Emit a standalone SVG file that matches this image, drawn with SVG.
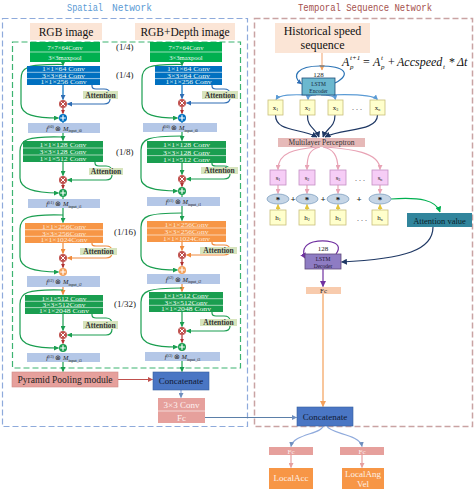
<svg xmlns="http://www.w3.org/2000/svg" xmlns:xlink="http://www.w3.org/1999/xlink" width="474" height="489" viewBox="0 0 474 489">
<style>
text{font-family:"Liberation Serif","Times New Roman",serif;}
.ttl{font-family:"Liberation Mono","DejaVu Sans Mono",monospace;font-size:10px;}
.cv{font-size:6.6px;fill:#eefaf0;text-anchor:middle;}
.cvo{font-size:6.6px;fill:#fde9d9;text-anchor:middle;}
.att{font-size:7.5px;fill:#333;text-anchor:middle;font-weight:bold;}
.fl{font-size:6.5px;fill:#222;text-anchor:middle;}
.sc{font-size:9px;fill:#222;}
.ln{fill:none;stroke-width:1.2;}
.dv{stroke:#fff;stroke-width:0.6;}
.fb{fill:#b4c7e7;}
.ab{fill:#d7e4bd;}
.yb{fill:#ffffcc;stroke:#c9bf7a;stroke-width:0.8;}
.sb{fill:#f6cdf6;stroke:#c48fc4;stroke-width:0.8;}
.el{fill:#c5d5e6;stroke:#7fa0c0;stroke-width:0.8;}
.st{font-size:7px;fill:#222;text-anchor:middle;}
.fx{font-family:"Liberation Serif",serif;font-style:italic;fill:#111;}
</style>
<defs>
<marker id="aG" viewBox="0 0 10 10" refX="9" refY="5" markerWidth="5" markerHeight="5" markerUnits="userSpaceOnUse" orient="auto"><path d="M0,0L10,5L0,10z" fill="#1a9e50"/></marker>
<marker id="aB" viewBox="0 0 10 10" refX="9" refY="5" markerWidth="5" markerHeight="5" markerUnits="userSpaceOnUse" orient="auto"><path d="M0,0L10,5L0,10z" fill="#2e6db4"/></marker>
<marker id="aO" viewBox="0 0 10 10" refX="9" refY="5" markerWidth="5" markerHeight="5" markerUnits="userSpaceOnUse" orient="auto"><path d="M0,0L10,5L0,10z" fill="#f08a3c"/></marker>
<marker id="aR" viewBox="0 0 10 10" refX="9" refY="5" markerWidth="4" markerHeight="4" markerUnits="userSpaceOnUse" orient="auto"><path d="M0,0L10,5L0,10z" fill="#b03030"/></marker>
<marker id="aN" viewBox="0 0 10 10" refX="9" refY="5" markerWidth="6" markerHeight="6" markerUnits="userSpaceOnUse" orient="auto"><path d="M0,0L10,5L0,10z" fill="#1f3864"/></marker>
<marker id="aP" viewBox="0 0 10 10" refX="9" refY="5" markerWidth="5" markerHeight="5" markerUnits="userSpaceOnUse" orient="auto"><path d="M0,0L10,5L0,10z" fill="#e8a3b5"/></marker>
<marker id="aY" viewBox="0 0 10 10" refX="9" refY="5" markerWidth="5" markerHeight="5" markerUnits="userSpaceOnUse" orient="auto"><path d="M0,0L10,5L0,10z" fill="#e3c53c"/></marker>
<marker id="aV" viewBox="0 0 10 10" refX="9" refY="5" markerWidth="6" markerHeight="6" markerUnits="userSpaceOnUse" orient="auto"><path d="M0,0L10,5L0,10z" fill="#7030a0"/></marker>
<marker id="aT" viewBox="0 0 10 10" refX="9" refY="5" markerWidth="5" markerHeight="5" markerUnits="userSpaceOnUse" orient="auto"><path d="M0,0L10,5L0,10z" fill="#5b9bd5"/></marker>
<marker id="aS" viewBox="0 0 10 10" refX="9" refY="5" markerWidth="5" markerHeight="5" markerUnits="userSpaceOnUse" orient="auto"><path d="M0,0L10,5L0,10z" fill="#6f8fbf"/></marker>
<marker id="aGr" viewBox="0 0 10 10" refX="9" refY="5" markerWidth="6" markerHeight="6" markerUnits="userSpaceOnUse" orient="auto"><path d="M0,0L10,5L0,10z" fill="#00b050"/></marker>
<marker id="aK" viewBox="0 0 10 10" refX="9" refY="5" markerWidth="5" markerHeight="5" markerUnits="userSpaceOnUse" orient="auto"><path d="M0,0L10,5L0,10z" fill="#c0504d"/></marker>
<marker id="aPk" viewBox="0 0 10 10" refX="9" refY="5" markerWidth="5" markerHeight="5" markerUnits="userSpaceOnUse" orient="auto"><path d="M0,0L10,5L0,10z" fill="#e6a0a0"/></marker>
<marker id="aOr" viewBox="0 0 10 10" refX="9" refY="5" markerWidth="6" markerHeight="6" markerUnits="userSpaceOnUse" orient="auto"><path d="M0,0L10,5L0,10z" fill="#f4a05a"/></marker>
<g id="mul"><circle r="4" fill="#c0504d"/><path d="M-2.3,-2.3L2.3,2.3M2.3,-2.3L-2.3,2.3" stroke="#fff" stroke-width="1"/></g>
<g id="addB"><circle r="4" fill="#0070c0"/><path d="M-2.8,0H2.8M0,-2.8V2.8" stroke="#fff" stroke-width="1.2"/></g>
<g id="addG"><circle r="4" fill="#1a9e50"/><path d="M-2.8,0H2.8M0,-2.8V2.8" stroke="#fff" stroke-width="1.2"/></g>
<g id="addO"><circle r="4" fill="#f4a05a"/><path d="M-2.8,0H2.8M0,-2.8V2.8" stroke="#fff" stroke-width="1.2"/></g>
</defs>
<rect width="474" height="489" fill="#fff"/>

<!-- frames -->
<g id="frames">
<text class="ttl" x="67" y="11" fill="#5b9bd5" textLength="36" lengthAdjust="spacingAndGlyphs">Spatial</text>
<text class="ttl" x="112" y="11" fill="#5b9bd5" textLength="40" lengthAdjust="spacingAndGlyphs">Network</text>
<text class="ttl" x="298" y="11" fill="#a5504d" textLength="134" lengthAdjust="spacingAndGlyphs">Temporal Sequence Network</text>
<rect x="2.5" y="18.5" width="245" height="408" fill="none" stroke="#8eaadb" stroke-width="1.2" stroke-dasharray="6 3"/>
<rect x="254.5" y="18.5" width="218" height="408" fill="none" stroke="#c9a3a3" stroke-width="1.5" stroke-dasharray="6 3"/>
<rect x="12.5" y="42" width="228" height="326" fill="none" stroke="#3cb371" stroke-width="1.2" stroke-dasharray="6 3"/>
</g>

<!-- connectors -->
<g id="connectors">
<!-- column 1 -->
<path class="ln" stroke="#1a9e50" d="M63,62V65.5" marker-end="url(#aG)"/>
<path class="ln" stroke="#1a9e50" d="M63,64.5C26,64 21,67 21,80V104C21,115 35,118 58.5,118" marker-end="url(#aG)"/>
<path class="ln" stroke="#0070c0" d="M63,85V99.5" marker-end="url(#aB)"/>
<path class="ln" stroke="#2e6db4" d="M92,85V86Q92,89 96,89H104Q110,89 110,94V99Q110,104 104,104H67.5" marker-end="url(#aB)"/>
<path class="ln" stroke="#b03030" d="M63,108V113.5" marker-end="url(#aR)"/>
<path class="ln" stroke="#0070c0" d="M63,122V123"/>
<path class="ln" stroke="#1a9e50" d="M63,133V140.5" marker-end="url(#aG)"/>
<path class="ln" stroke="#1a9e50" d="M63,137C26,136 20,140 20,151V178C20,189 35,193 58.5,193" marker-end="url(#aG)"/>
<path class="ln" stroke="#1a9e50" d="M63,162V175.5" marker-end="url(#aG)"/>
<path class="ln" stroke="#1a9e50" d="M95,162V163Q95,166 99,166H106Q112,166 112,172V175Q112,180 106,180H67.5" marker-end="url(#aG)"/>
<path class="ln" stroke="#b03030" d="M63,184V188.5" marker-end="url(#aR)"/>
<path class="ln" stroke="#1a9e50" d="M63,197V199"/>
<path class="ln" stroke="#1a9e50" d="M63,208V222.5" marker-end="url(#aG)"/>
<path class="ln" stroke="#1a9e50" d="M63,215C26,214 20,218 20,229V257C20,268 35,272 58.5,272" marker-end="url(#aG)"/>
<path class="ln" stroke="#f08a3c" d="M63,243V253.5" marker-end="url(#aO)"/>
<path class="ln" stroke="#f08a3c" d="M92,243V244Q92,246 96,246H106Q112,246 112,251V253Q112,258 106,258H67.5" marker-end="url(#aO)"/>
<path class="ln" stroke="#b03030" d="M63,262V267.5" marker-end="url(#aR)"/>
<path class="ln" stroke="#f08a3c" d="M63,276V276.5"/>
<path class="ln" stroke="#f08a3c" d="M63,287V294.5" marker-end="url(#aO)"/>
<path class="ln" stroke="#1a9e50" d="M63,290C26,289 20,293 20,304V334C20,345 35,348 58.5,348" marker-end="url(#aG)"/>
<path class="ln" stroke="#1a9e50" d="M63,314V330.5" marker-end="url(#aG)"/>
<path class="ln" stroke="#1a9e50" d="M92,314V315Q92,318 96,318H106Q112,318 112,324V329Q112,335 106,335H67.5" marker-end="url(#aG)"/>
<path class="ln" stroke="#b03030" d="M63,339V343.5" marker-end="url(#aR)"/>
<path class="ln" stroke="#1a9e50" d="M63,362V371.5" marker-end="url(#aG)"/>
<!-- column 2 -->
<path class="ln" stroke="#1a9e50" d="M182,62V65.5" marker-end="url(#aG)"/>
<path class="ln" stroke="#1a9e50" d="M182,64.5C148,64 142,67 142,79V104C142,115 155,118 177.5,118" marker-end="url(#aG)"/>
<path class="ln" stroke="#0070c0" d="M182,85V98.5" marker-end="url(#aB)"/>
<path class="ln" stroke="#2e6db4" d="M212,85V86Q212,89 216,89H224Q230,89 230,94V98Q230,103 224,103H186.5" marker-end="url(#aB)"/>
<path class="ln" stroke="#b03030" d="M182,107V113.5" marker-end="url(#aR)"/>
<path class="ln" stroke="#0070c0" d="M182,122V123"/>
<path class="ln" stroke="#1a9e50" d="M182,132V140.5" marker-end="url(#aG)"/>
<path class="ln" stroke="#1a9e50" d="M182,136C148,136 141,139 141,150V178C141,188 155,191 177.5,191" marker-end="url(#aG)"/>
<path class="ln" stroke="#1a9e50" d="M182,163V174.5" marker-end="url(#aG)"/>
<path class="ln" stroke="#1a9e50" d="M212,163V164Q212,166 216,166H224Q230,166 230,171V174Q230,179 224,179H186.5" marker-end="url(#aG)"/>
<path class="ln" stroke="#b03030" d="M182,183V186.5" marker-end="url(#aR)"/>
<path class="ln" stroke="#1a9e50" d="M182,195V197"/>
<path class="ln" stroke="#1a9e50" d="M182,206V220.5" marker-end="url(#aG)"/>
<path class="ln" stroke="#1a9e50" d="M182,213C148,213 141,216 141,227V256C141,267 155,270 177.5,270" marker-end="url(#aG)"/>
<path class="ln" stroke="#f08a3c" d="M182,242V250.5" marker-end="url(#aO)"/>
<path class="ln" stroke="#f08a3c" d="M212,242V243Q212,245 216,245H224Q230,245 230,250V250Q230,255 224,255H186.5" marker-end="url(#aO)"/>
<path class="ln" stroke="#b03030" d="M182,259V265.5" marker-end="url(#aR)"/>
<path class="ln" stroke="#f08a3c" d="M182,274V274.5"/>
<path class="ln" stroke="#f08a3c" d="M182,284V291.5" marker-end="url(#aO)"/>
<path class="ln" stroke="#1a9e50" d="M182,288C148,288 141,291 141,302V333C141,344 155,347 177.5,347" marker-end="url(#aG)"/>
<path class="ln" stroke="#1a9e50" d="M182,312V326.5" marker-end="url(#aG)"/>
<path class="ln" stroke="#1a9e50" d="M212,312V313Q212,316 216,316H224Q230,316 230,321V326Q230,331 224,331H186.5" marker-end="url(#aG)"/>
<path class="ln" stroke="#b03030" d="M182,335V342.5" marker-end="url(#aR)"/>
<path class="ln" stroke="#1a9e50" d="M182,361V371.5" marker-end="url(#aG)"/>
<!-- spatial bottom -->
<path class="ln" stroke="#c0504d" d="M118,379.5H152.5" marker-end="url(#aK)"/>
<path class="ln" stroke="#8faadc" d="M181,390V397.5" marker-end="url(#aS)"/>
<path class="ln" stroke="#5b7fa8" d="M205,417.5H296.5" marker-end="url(#aS)"/>
<!-- temporal -->
<path class="ln" stroke="#f4b183" d="M322,53V70" marker-end="url(#aOr)"/>
<path class="ln" stroke="#2e75b6" stroke-width="1.3" d="M335,83C352,74 345,66 320,66C297,66 291,76 301.5,84" marker-end="url(#aB)"/>
<path class="ln" stroke="#5b9bd5" d="M312,95C300,95 280,93 276,99.5" marker-end="url(#aT)"/>
<path class="ln" stroke="#5b9bd5" d="M316,95C310,95 308,96 308,99.5" marker-end="url(#aT)"/>
<path class="ln" stroke="#5b9bd5" d="M321,95C330,95 335,96 335.5,99.5" marker-end="url(#aT)"/>
<path class="ln" stroke="#5b9bd5" d="M326,95C350,94 372,94 377.5,99.5" marker-end="url(#aT)"/>
<path class="ln" stroke="#1f3864" stroke-width="1.5" d="M275.5,115C275.5,132 300,128 317,137" marker-end="url(#aN)"/>
<path class="ln" stroke="#1f3864" stroke-width="1.5" d="M307.5,115C307,128 316,128 319,137" marker-end="url(#aN)"/>
<path class="ln" stroke="#1f3864" stroke-width="1.5" d="M335,115C335,128 326,128 323,137" marker-end="url(#aN)"/>
<path class="ln" stroke="#1f3864" stroke-width="1.5" d="M377.5,115C377.5,132 342,128 325,137" marker-end="url(#aN)"/>
<path class="ln" stroke="#e8a3b5" d="M318,147C295,149 278,152 278,169.5" marker-end="url(#aP)"/>
<path class="ln" stroke="#e8a3b5" d="M320,147C310,149 307,155 307,169.5" marker-end="url(#aP)"/>
<path class="ln" stroke="#e8a3b5" d="M323,147C333,149 338,155 338,169.5" marker-end="url(#aP)"/>
<path class="ln" stroke="#e8a3b5" d="M325,147C350,149 380,152 380,169.5" marker-end="url(#aP)"/>
<path class="ln" stroke="#e8a3b5" d="M278,185V193.5" marker-end="url(#aP)"/>
<path class="ln" stroke="#e8a3b5" d="M307,185V193.5" marker-end="url(#aP)"/>
<path class="ln" stroke="#e8a3b5" d="M338,185V193.5" marker-end="url(#aP)"/>
<path class="ln" stroke="#e8a3b5" d="M380,185V193.5" marker-end="url(#aP)"/>
<path class="ln" stroke="#e3c53c" d="M278,210V204.5" marker-end="url(#aY)"/>
<path class="ln" stroke="#e3c53c" d="M307,210V204.5" marker-end="url(#aY)"/>
<path class="ln" stroke="#e3c53c" d="M338,210V204.5" marker-end="url(#aY)"/>
<path class="ln" stroke="#e3c53c" d="M380,210V204.5" marker-end="url(#aY)"/>
<path class="ln" stroke="#00b050" stroke-width="1.4" d="M391,199C420,197 436,200 440,212" marker-end="url(#aGr)"/>
<path class="ln" stroke="#1f3864" d="M433,227C433,250 405,259 341.5,262" marker-end="url(#aN)"/>
<path class="ln" stroke="#7030a0" stroke-width="1.4" d="M336,254C346,240 322,240 313,242C303,245 302,252 305.5,258.5" marker-end="url(#aV)"/>
<path class="ln" stroke="#7030a0" stroke-width="1.3" d="M323,269V286.5" marker-end="url(#aV)"/>
<path class="ln" stroke="#f4a05a" stroke-width="1.6" d="M323,294V406.5" marker-end="url(#aOr)"/>
<path class="ln" stroke="#8faadc" d="M323,426C322,434 293,434 291,446.5" marker-end="url(#aS)"/>
<path class="ln" stroke="#8faadc" d="M327,426C330,434 360,434 362,446.5" marker-end="url(#aS)"/>
<path class="ln" stroke="#e6a0a0" d="M291,455V467.5" marker-end="url(#aPk)"/>
<path class="ln" stroke="#e6a0a0" d="M362,455V467.5" marker-end="url(#aPk)"/>
</g>

<!-- column 1 nodes -->
<g id="rgb"><rect x="30" y="23" width="72" height="17" fill="#fbe5d6"/><text x="66" y="36" font-size="11.5" text-anchor="middle" fill="#111">RGB image</text></g>
<g id="c1b1"><rect x="30" y="42" width="70" height="20" fill="#00b050"/><line class="dv" x1="30" y1="52" x2="100" y2="52"/><text class="cv" x="65" y="50" font-size="8.5">7×7×64Conv</text><text class="cv" x="65" y="60" font-size="8.5">3×3maxpool</text></g>
<g id="c1b2"><rect x="27" y="66" width="73" height="19" fill="#0070c0"/><line class="dv" x1="27" y1="72.3" x2="100" y2="72.3"/><line class="dv" x1="27" y1="78.6" x2="100" y2="78.6"/><text class="cv" x="63.5" y="71.4" textLength="43" lengthAdjust="spacingAndGlyphs">1×1×64 Conv</text><text class="cv" x="63.5" y="77.7" textLength="43" lengthAdjust="spacingAndGlyphs">3×3×64 Conv</text><text class="cv" x="63.5" y="84" textLength="46" lengthAdjust="spacingAndGlyphs">1×1×256 Conv</text></g>
<g id="c1att1"><rect class="ab" x="83" y="91" width="35" height="8"/><text class="att" x="100.5" y="97.5">Attention</text></g>
<g id="c1op1"><use href="#mul" x="63" y="104"/><use href="#addB" x="63" y="118"/></g>
<g id="c1f1"><rect class="fb" x="28" y="123" width="72" height="10"/><text class="fl" x="64" y="130.5"><tspan font-style="italic">f</tspan><tspan dy="-2.5" font-size="4">(i0)</tspan><tspan dy="2.5"> ⊗ </tspan><tspan font-style="italic">M</tspan><tspan dy="1.5" font-size="4">input_i0</tspan></text></g>
<g id="c1b3"><rect x="23" y="141" width="80" height="21" fill="#1a9e50"/><line class="dv" x1="23" y1="148" x2="103" y2="148"/><line class="dv" x1="23" y1="155" x2="103" y2="155"/><text class="cv" x="63" y="147.1" font-size="7" textLength="47" lengthAdjust="spacingAndGlyphs">1×1×128 Conv</text><text class="cv" x="63" y="154.1" font-size="7" textLength="47" lengthAdjust="spacingAndGlyphs">3×3×128 Conv</text><text class="cv" x="63" y="161.1" font-size="7" textLength="47" lengthAdjust="spacingAndGlyphs">1×1×512 Conv</text></g>
<g id="c1att2"><rect class="ab" x="89" y="168" width="34" height="7"/><text class="att" x="106" y="174">Attention</text></g>
<g id="c1op2"><use href="#mul" x="63" y="180"/><use href="#addG" x="63" y="193"/></g>
<g id="c1f2"><rect class="fb" x="28" y="199" width="72" height="9"/><text class="fl" x="64" y="206"><tspan font-style="italic">f</tspan><tspan dy="-2.5" font-size="4">(i1)</tspan><tspan dy="2.5"> ⊗ </tspan><tspan font-style="italic">M</tspan><tspan dy="1.5" font-size="4">input_i1</tspan></text></g>
<g id="c1b4"><rect x="25" y="223" width="78" height="20" fill="#f79646"/><line class="dv" x1="25" y1="229.7" x2="103" y2="229.7"/><line class="dv" x1="25" y1="236.3" x2="103" y2="236.3"/><text class="cvo" x="64" y="228.9" textLength="44" lengthAdjust="spacingAndGlyphs">1×1×256Conv</text><text class="cvo" x="64" y="235.6" textLength="44" lengthAdjust="spacingAndGlyphs">3×3×256Conv</text><text class="cvo" x="64" y="242.3" textLength="47" lengthAdjust="spacingAndGlyphs">1×1×1024Conv</text></g>
<g id="c1att3"><rect class="ab" x="80" y="248" width="37" height="7"/><text class="att" x="98.5" y="254">Attention</text></g>
<g id="c1op3"><use href="#mul" x="63" y="258"/><use href="#addO" x="63" y="272"/></g>
<g id="c1f3"><rect class="fb" x="27" y="276" width="73" height="11"/><text class="fl" x="64" y="284"><tspan font-style="italic">f</tspan><tspan dy="-2.5" font-size="4">(i2)</tspan><tspan dy="2.5"> ⊗ </tspan><tspan font-style="italic">M</tspan><tspan dy="1.5" font-size="4">input_i2</tspan></text></g>
<g id="c1b5"><rect x="25" y="295" width="78" height="19" fill="#1a9e50"/><line class="dv" x1="25" y1="301.3" x2="103" y2="301.3"/><line class="dv" x1="25" y1="307.6" x2="103" y2="307.6"/><text class="cv" x="64" y="300.5" textLength="45" lengthAdjust="spacingAndGlyphs">1×1×512 Conv</text><text class="cv" x="64" y="306.8" textLength="43" lengthAdjust="spacingAndGlyphs">3×3×512Conv</text><text class="cv" x="64" y="313.1" textLength="50" lengthAdjust="spacingAndGlyphs">1×1×2048 Conv</text></g>
<g id="c1att4"><rect class="ab" x="83" y="321" width="35" height="8"/><text class="att" x="100.5" y="327.5">Attention</text></g>
<g id="c1op4"><use href="#mul" x="63" y="335"/><use href="#addG" x="63" y="348"/></g>
<g id="c1f4"><rect class="fb" x="27" y="353" width="73" height="9"/><text class="fl" x="64" y="360"><tspan font-style="italic">f</tspan><tspan dy="-2.5" font-size="4">(i3)</tspan><tspan dy="2.5"> ⊗ </tspan><tspan font-style="italic">M</tspan><tspan dy="1.5" font-size="4">input_i3</tspan></text></g>

<!-- scale labels -->
<g id="scales">
<text class="sc" x="116" y="50">(1/4)</text>
<text class="sc" x="116" y="78">(1/4)</text>
<text class="sc" x="116" y="155">(1/8)</text>
<text class="sc" x="114" y="235">(1/16)</text>
<text class="sc" x="114" y="307">(1/32)</text>
</g>

<!-- column 2 nodes -->
<g id="rgbd"><rect x="135" y="23" width="100" height="17" fill="#fbe5d6"/><text x="185" y="36" font-size="11.5" text-anchor="middle" fill="#111">RGB+Depth image</text></g>
<g id="c2b1"><rect x="150" y="42" width="72" height="20" fill="#00b050"/><line class="dv" x1="150" y1="52" x2="222" y2="52"/><text class="cv" x="186" y="50" font-size="8.5">7×7×64Conv</text><text class="cv" x="186" y="60" font-size="8.5">3×3maxpool</text></g>
<g id="c2b2"><rect x="155" y="66" width="67" height="19" fill="#0070c0"/><line class="dv" x1="155" y1="72.3" x2="222" y2="72.3"/><line class="dv" x1="155" y1="78.6" x2="222" y2="78.6"/><text class="cv" x="188.5" y="71.4" textLength="43" lengthAdjust="spacingAndGlyphs">1×1×64 Conv</text><text class="cv" x="188.5" y="77.7" textLength="43" lengthAdjust="spacingAndGlyphs">3×3×64 Conv</text><text class="cv" x="188.5" y="84" textLength="46" lengthAdjust="spacingAndGlyphs">1×1×256 Conv</text></g>
<g id="c2att1"><rect class="ab" x="202" y="91" width="36" height="8"/><text class="att" x="220" y="97.5">Attention</text></g>
<g id="c2op1"><use href="#mul" x="182" y="103"/><use href="#addB" x="182" y="118"/></g>
<g id="c2f1"><rect class="fb" x="143" y="123" width="74" height="9"/><text class="fl" x="180" y="130"><tspan font-style="italic">f</tspan><tspan dy="-2.5" font-size="4">(i0)</tspan><tspan dy="2.5"> ⊗ </tspan><tspan font-style="italic">M</tspan><tspan dy="1.5" font-size="4">input_i0</tspan></text></g>
<g id="c2b3"><rect x="147" y="141" width="79" height="22" fill="#1a9e50"/><line class="dv" x1="147" y1="148.3" x2="226" y2="148.3"/><line class="dv" x1="147" y1="155.6" x2="226" y2="155.6"/><text class="cv" x="186.5" y="147.4" font-size="7" textLength="47" lengthAdjust="spacingAndGlyphs">1×1×128 Conv</text><text class="cv" x="186.5" y="154.7" font-size="7" textLength="47" lengthAdjust="spacingAndGlyphs">3×3×128 Conv</text><text class="cv" x="186.5" y="162" font-size="7" textLength="47" lengthAdjust="spacingAndGlyphs">1×1×512 Conv</text></g>
<g id="c2att2"><rect class="ab" x="201" y="167" width="37" height="7"/><text class="att" x="219.5" y="173">Attention</text></g>
<g id="c2op2"><use href="#mul" x="182" y="179"/><use href="#addG" x="182" y="191"/></g>
<g id="c2f2"><rect class="fb" x="147" y="197" width="73" height="9"/><text class="fl" x="183.5" y="204"><tspan font-style="italic">f</tspan><tspan dy="-2.5" font-size="4">(i1)</tspan><tspan dy="2.5"> ⊗ </tspan><tspan font-style="italic">M</tspan><tspan dy="1.5" font-size="4">input_i1</tspan></text></g>
<g id="c2b4"><rect x="147" y="221" width="79" height="21" fill="#f79646"/><line class="dv" x1="147" y1="228" x2="226" y2="228"/><line class="dv" x1="147" y1="235" x2="226" y2="235"/><text class="cvo" x="186.5" y="227.2" textLength="44" lengthAdjust="spacingAndGlyphs">1×1×256Conv</text><text class="cvo" x="186.5" y="234.2" textLength="44" lengthAdjust="spacingAndGlyphs">3×3×256Conv</text><text class="cvo" x="186.5" y="241.2" textLength="47" lengthAdjust="spacingAndGlyphs">1×1×1024Conv</text></g>
<g id="c2att3"><rect class="ab" x="200" y="247" width="37" height="7"/><text class="att" x="218.5" y="253">Attention</text></g>
<g id="c2op3"><use href="#mul" x="182" y="255"/><use href="#addO" x="182" y="270"/></g>
<g id="c2f3"><rect class="fb" x="147" y="274" width="73" height="10"/><text class="fl" x="183.5" y="281.5"><tspan font-style="italic">f</tspan><tspan dy="-2.5" font-size="4">(i2)</tspan><tspan dy="2.5"> ⊗ </tspan><tspan font-style="italic">M</tspan><tspan dy="1.5" font-size="4">input_i2</tspan></text></g>
<g id="c2b5"><rect x="149" y="292" width="74" height="20" fill="#1a9e50"/><line class="dv" x1="149" y1="298.7" x2="223" y2="298.7"/><line class="dv" x1="149" y1="305.3" x2="223" y2="305.3"/><text class="cv" x="186" y="297.9" textLength="45" lengthAdjust="spacingAndGlyphs">1×1×512 Conv</text><text class="cv" x="186" y="304.6" textLength="43" lengthAdjust="spacingAndGlyphs">3×3×512Conv</text><text class="cv" x="186" y="311.2" textLength="50" lengthAdjust="spacingAndGlyphs">1×1×2048 Conv</text></g>
<g id="c2att4"><rect class="ab" x="200" y="319" width="37" height="7"/><text class="att" x="218.5" y="325">Attention</text></g>
<g id="c2op4"><use href="#mul" x="182" y="331"/><use href="#addG" x="182" y="347"/></g>
<g id="c2f4"><rect class="fb" x="145" y="352" width="75" height="9"/><text class="fl" x="182.5" y="359"><tspan font-style="italic">f</tspan><tspan dy="-2.5" font-size="4">(i3)</tspan><tspan dy="2.5"> ⊗ </tspan><tspan font-style="italic">M</tspan><tspan dy="1.5" font-size="4">input_i3</tspan></text></g>

<!-- spatial bottom -->
<g id="ppm"><rect x="12" y="372" width="106" height="15" fill="#e6a09c" stroke="#d08a86" stroke-width="0.6"/><text x="65" y="383" font-size="9.5" text-anchor="middle" fill="#222">Pyramid Pooling module</text></g>
<g id="concat1"><rect x="153" y="372" width="56" height="18" fill="#4a76c4" stroke="#35609f" stroke-width="0.6"/><text x="181" y="384" font-size="9" text-anchor="middle" fill="#111a33">Concatenate</text></g>
<g id="convfc"><rect x="158" y="398" width="47" height="25" fill="#e6a09c"/><line class="dv" x1="158" y1="411" x2="205" y2="411"/><text x="181.5" y="408" font-size="9" text-anchor="middle" fill="#fdf1f0">3×3 Conv</text><text x="181.5" y="421" font-size="9" text-anchor="middle" fill="#fdf1f0">Fc</text></g>

<!-- temporal nodes -->
<g id="hist"><rect x="275" y="23" width="95" height="30" fill="#fbe5d6"/><text x="322.5" y="35" font-size="12" text-anchor="middle" fill="#111">Historical speed</text><text x="322.5" y="49" font-size="12" text-anchor="middle" fill="#111">sequence</text></g>
<g id="formula">
<text class="fx" x="342" y="66" font-size="12">A</text>
<text class="fx" x="350" y="59.5" font-size="7">t+1</text>
<text class="fx" x="350" y="69" font-size="7">p</text>
<text x="363" y="66" font-size="12" fill="#111">=</text>
<text class="fx" x="373" y="66" font-size="12">A</text>
<text class="fx" x="381" y="59.5" font-size="7">t</text>
<text class="fx" x="381" y="69" font-size="7">p</text>
<text x="388" y="66" font-size="12" fill="#111">+</text>
<text class="fx" x="397" y="66" font-size="12">Accspeed</text>
<text class="fx" x="443" y="69" font-size="7">t</text>
<text x="449" y="66" font-size="12" fill="#111">*</text>
<text class="fx" x="457" y="66" font-size="12">Δt</text>
</g>
<g id="enc"><text x="318.5" y="77" font-size="7" text-anchor="middle" fill="#222">128</text><rect x="302" y="78" width="33" height="17" fill="#6bb8cf" stroke="#1f4e79" stroke-width="0.8"/><text x="318.5" y="86" font-size="5.5" text-anchor="middle" fill="#15243b">LSTM</text><text x="318.5" y="93" font-size="5.5" text-anchor="middle" fill="#15243b">Encoder</text></g>
<g id="x1"><rect class="yb" x="268" y="100" width="15" height="15"/><text class="st" x="275.5" y="110">x<tspan font-size="4" dy="1">1</tspan></text></g>
<g id="x2"><rect class="yb" x="300" y="100" width="15" height="15"/><text class="st" x="307.5" y="110">x<tspan font-size="4" dy="1">2</tspan></text></g>
<g id="x3"><rect class="yb" x="328" y="100" width="15" height="15"/><text class="st" x="335.5" y="110">x<tspan font-size="4" dy="1">3</tspan></text></g>
<text x="357" y="110" font-size="8" text-anchor="middle" fill="#333">. . .</text>
<g id="xn"><rect class="yb" x="370" y="100" width="15" height="15"/><text class="st" x="377.5" y="110">x<tspan font-size="4" dy="1">n</tspan></text></g>
<g id="mlp"><rect x="278" y="138" width="87" height="9" fill="#e6b9b8"/><text x="321.5" y="145" font-size="7.5" text-anchor="middle" fill="#333">Multilayer Perceptron</text></g>
<g id="s1"><rect class="sb" x="270" y="170" width="16" height="15"/><text class="st" x="278" y="180">s<tspan font-size="4" dy="1">1</tspan></text></g>
<g id="s2"><rect class="sb" x="299" y="170" width="16" height="15"/><text class="st" x="307" y="180">s<tspan font-size="4" dy="1">2</tspan></text></g>
<g id="s3"><rect class="sb" x="330" y="170" width="16" height="15"/><text class="st" x="338" y="180">s<tspan font-size="4" dy="1">3</tspan></text></g>
<text x="360" y="181" font-size="8" text-anchor="middle" fill="#333">. . .</text>
<g id="sn"><rect class="sb" x="372" y="170" width="16" height="15"/><text class="st" x="380" y="180">s<tspan font-size="4" dy="1">n</tspan></text></g>
<g id="e1"><ellipse class="el" cx="278" cy="199" rx="11" ry="5"/><text x="278" y="203" font-size="9" font-weight="bold" text-anchor="middle" fill="#111">*</text></g>
<g id="e2"><ellipse class="el" cx="307" cy="199" rx="11" ry="5"/><text x="307" y="203" font-size="9" font-weight="bold" text-anchor="middle" fill="#111">*</text></g>
<g id="e3"><ellipse class="el" cx="338" cy="199" rx="11" ry="5"/><text x="338" y="203" font-size="9" font-weight="bold" text-anchor="middle" fill="#111">*</text></g>
<g id="en"><ellipse class="el" cx="380" cy="199" rx="11" ry="5"/><text x="380" y="203" font-size="9" font-weight="bold" text-anchor="middle" fill="#111">*</text></g>
<text x="293" y="202" font-size="9" font-weight="bold" text-anchor="middle" fill="#222">+</text>
<text x="323" y="202" font-size="9" font-weight="bold" text-anchor="middle" fill="#222">+</text>
<text x="359" y="202" font-size="9" font-weight="bold" text-anchor="middle" fill="#222">+</text>
<g id="h1"><rect class="yb" x="270" y="210" width="16" height="15"/><text class="st" x="278" y="220">h<tspan font-size="4" dy="1">1</tspan></text></g>
<g id="h2"><rect class="yb" x="299" y="210" width="16" height="15"/><text class="st" x="307" y="220">h<tspan font-size="4" dy="1">2</tspan></text></g>
<g id="h3"><rect class="yb" x="330" y="210" width="16" height="15"/><text class="st" x="338" y="220">h<tspan font-size="4" dy="1">3</tspan></text></g>
<text x="362" y="221" font-size="8" text-anchor="middle" fill="#333">. . .</text>
<g id="hn"><rect class="yb" x="372" y="210" width="16" height="15"/><text class="st" x="380" y="220">h<tspan font-size="4" dy="1">n</tspan></text></g>
<g id="attval"><rect x="407" y="213" width="65" height="14" fill="#31859c"/><text x="439.5" y="223.5" font-size="8.5" text-anchor="middle" fill="#0b1d2b">Attention value</text></g>
<g id="dec"><text x="323" y="251" font-size="7" text-anchor="middle" fill="#222">128</text><rect x="305" y="254" width="36" height="15" fill="#8e7cc3" stroke="#5f497a" stroke-width="0.8"/><text x="323" y="261" font-size="5.5" text-anchor="middle" fill="#1d1433">LSTM</text><text x="323" y="267.5" font-size="5.5" text-anchor="middle" fill="#1d1433">Decoder</text></g>
<g id="fct"><rect x="306" y="287" width="35" height="7" fill="#f8cbad"/><text x="323.5" y="293" font-size="7" text-anchor="middle" fill="#222">Fc</text></g>
<g id="concat2"><rect x="297" y="407" width="56" height="19" fill="#4a76c4" stroke="#35609f" stroke-width="0.6"/><text x="325" y="419.5" font-size="9" text-anchor="middle" fill="#111a33">Concatenate</text></g>
<g id="fc1"><rect x="269" y="447" width="44" height="8" fill="#e6a09c"/><text x="291" y="453.5" font-size="7" text-anchor="middle" fill="#fdf1f0">Fc</text></g>
<g id="fc2"><rect x="340" y="447" width="44" height="8" fill="#e6a09c"/><text x="362" y="453.5" font-size="7" text-anchor="middle" fill="#fdf1f0">Fc</text></g>
<g id="acc"><rect x="269" y="468" width="44" height="21" fill="#f79646"/><text x="291" y="481" font-size="9" text-anchor="middle" fill="#fdf0e6">LocalAcc</text></g>
<g id="ang"><rect x="342" y="468" width="42" height="21" fill="#f79646"/><text x="363" y="477" font-size="9" text-anchor="middle" fill="#fdf0e6">LocalAng</text><text x="363" y="487" font-size="9" text-anchor="middle" fill="#fdf0e6">Vel</text></g>
</svg>
